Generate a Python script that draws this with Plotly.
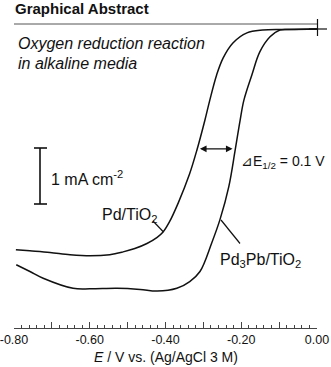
import plotly.graph_objects as go

# ---------------- data ----------------
pd_v = [-0.795, -0.758, -0.705, -0.652, -0.599, -0.547, -0.512, -0.481, -0.449, -0.422,
        -0.407, -0.390, -0.366, -0.337, -0.317, -0.296, -0.283, -0.265, -0.248, -0.222,
        -0.185, -0.143, -0.090, 0.0]
pd_j = [-3.94, -3.96, -3.99, -4.03, -4.05, -4.03, -3.98, -3.92, -3.83, -3.72,
        -3.63, -3.45, -3.10, -2.60, -2.16, -1.63, -1.27, -0.82, -0.52, -0.25,
        -0.07, -0.02, -0.01, 0.0]

pdpb_v = [-0.794, -0.758, -0.723, -0.644, -0.599, -0.528, -0.467, -0.422, -0.370, -0.336,
          -0.309, -0.278, -0.256, -0.233, -0.216, -0.203, -0.193, -0.172, -0.151, -0.124,
          -0.098, -0.071, 0.0]
pdpb_j = [-4.21, -4.33, -4.45, -4.63, -4.64, -4.63, -4.65, -4.68, -4.63, -4.51,
          -4.33, -3.82, -3.40, -2.82, -2.16, -1.63, -1.27, -0.82, -0.41, -0.14,
          -0.02, -0.01, 0.0]

tick_vals = [-0.8, -0.7, -0.6, -0.5, -0.4, -0.3, -0.2, -0.1, 0.0]
tick_text = ["-0.80", " ", "-0.60", " ", "-0.40", " ", "-0.20", " ", "0.00"]

# ---------------- layout helpers (pixel -> paper) ----------------
W, H = 331, 367
L, R, T, B = 14, 14, 24, 39
PW, PH = W - L - R, H - T - B


def px(x):
    return (x - L) / PW


def py(y):
    return (H - B - y) / PH


FONT = "Arial, Liberation Sans, sans-serif"
INK = "#111111"

fig = go.Figure()
fig.add_trace(go.Scatter(x=pd_v, y=pd_j, mode="lines", name="Pd/TiO2",
                         line=dict(color=INK, width=1.5, shape="spline", smoothing=1.0),
                         showlegend=False, hoverinfo="skip"))
fig.add_trace(go.Scatter(x=pdpb_v, y=pdpb_j, mode="lines", name="Pd3Pb/TiO2",
                         line=dict(color=INK, width=1.5, shape="spline", smoothing=1.0),
                         showlegend=False, hoverinfo="skip"))

shapes = []


def seg(x0, y0, x1, y1, w=1.2, c=INK):
    shapes.append(dict(type="line", xref="paper", yref="paper",
                       x0=px(x0), y0=py(y0), x1=px(x1), y1=py(y1),
                       line=dict(color=c, width=w)))


# top rule
seg(14, 24, 317, 24, 1, "#555555")
# cross at the origin
seg(317.5, 19, 317.5, 36, 1.2)
seg(309, 29, 327, 29, 1.2)
# scale bar
seg(40, 148, 40, 204, 1.6)
seg(34, 148, 47, 148, 1.6)
seg(34, 204, 47, 204, 1.6)
# leader lines
seg(153, 221, 163.5, 232, 1.2)
seg(221, 220, 240, 243.5, 1.2)

annotations = []


def txt(s, x, y, size, xanchor="left", **kw):
    annotations.append(dict(text=s, xref="paper", yref="paper", x=px(x), y=py(y),
                            xanchor=xanchor, yanchor="middle", showarrow=False,
                            font=dict(family=FONT, size=size, color=INK), **kw))


txt("<b>Graphical Abstract</b>", 13, 9, 15)
txt("<i>Oxygen reduction reaction</i>", 16, 44, 16)
txt("<i>in alkaline media</i>", 16, 64, 16)
txt("1 mA cm<sup>-2</sup>", 49, 178, 16)
txt("Pd/TiO<sub>2</sub>", 100, 215, 16)
txt("Pd<sub>3</sub>Pb/TiO<sub>2</sub>", 218, 260, 16)
txt("⊿E<sub>1/2</sub> = 0.1 V", 239, 162, 14)
txt("<i>E</i> / V vs. (Ag/AgCl 3 M)", 166, 357, 14, xanchor="center")

# double-headed arrow between the curves
annotations.append(dict(x=-0.2230, y=-2.14, ax=-0.3130, ay=-2.14,
                        xref="x", yref="y", axref="x", ayref="y",
                        text="", showarrow=True, arrowhead=2, startarrowhead=2,
                        arrowside="end+start", arrowsize=1.1, arrowwidth=1.2,
                        arrowcolor=INK))

fig.update_layout(
    width=W, height=H,
    margin=dict(l=L, r=R, t=T, b=B, autoexpand=False),
    paper_bgcolor="white", plot_bgcolor="white",
    shapes=shapes, annotations=annotations,
    hovermode=False,
    xaxis=dict(range=[-0.8, 0.0], tickvals=tick_vals, ticktext=tick_text,
               ticks="inside", ticklen=6, tickwidth=1, tickcolor="#444444",
               showline=True, linecolor="#444444", linewidth=1,
               showgrid=False, zeroline=False, automargin=False,
               ticklabeloverflow="allow",
               tickfont=dict(family=FONT, size=12.5, color=INK),
               minor=dict(tick0=-0.8, dtick=0.02, ticks="inside", ticklen=3,
                          tickcolor="#444444", showgrid=False)),
    yaxis=dict(range=[-5.339, 0.089], visible=False, showgrid=False, zeroline=False),
)

fig.write_html("out.html", config={"displayModeBar": False, "staticPlot": True},
               post_script="document.body.style.margin='0';document.body.style.padding='0';")
